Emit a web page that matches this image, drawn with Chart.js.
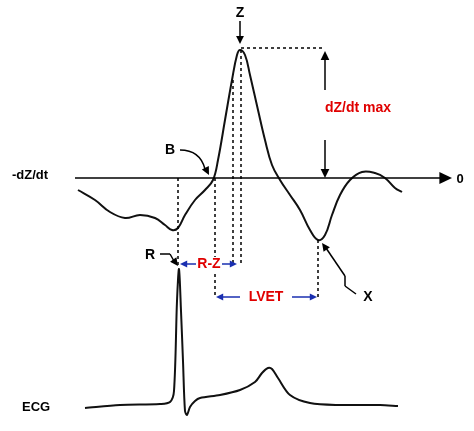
<!DOCTYPE html>
<html><head><meta charset="utf-8">
<script src="https://cdn.jsdelivr.net/npm/chart.js@4"></script>
<style>html,body{margin:0;padding:0;background:#fff}#w{width:474px;height:431px}</style>
</head><body><div id="w"><canvas id="c"></canvas></div>
<script>
// Values in plot units: x = horizontal position, y = height above bottom
const dzdtX = [78,95,110,125,140,155,165,172,178,185,195,205,213,218,225,232,237,240,245,250,258,265,272,280,290,300,310,318,325,332,340,350,362,375,385,395,402];
const dzdtY = [241,231,219,213,216,213,206,201,203,216,231,241,251,271,311,351,376,381,376,356,321,291,266,251,236,221,201,191,196,216,236,251,259,258,253,243,239];
const ecgX = [85,120,160,170,174,177,179,181,183,185,187,190,195,200,220,240,255,262,268,272,278,290,310,340,380,398];
const ecgY = [23,26,27,29,40,130,162,120,70,20,16,24,30,33,36,41,49,58,63,62,53,36,28,26,26,25];
const labels = {axis:"-dZ/dt", zero:"0", Z:"Z", B:"B", R:"R", X:"X", max:"dZ/dt max", RZ:"R-Z", LVET:"LVET", ECG:"ECG"};
const baselineY = 253;

const toPts=(xs,ys)=>xs.map((x,i)=>({x,y:ys[i]}));
const ann = {
  id:'ann',
  afterDatasetsDraw(ch){
    const c=ch.ctx, X=v=>ch.scales.x.getPixelForValue(v), Y=v=>ch.scales.y.getPixelForValue(v);
    c.save();
    const line=(x1,y1,x2,y2,dash,col,w)=>{c.beginPath();c.setLineDash(dash||[]);c.strokeStyle=col||'#000';c.lineWidth=w||1.5;c.moveTo(X(x1),Y(y1));c.lineTo(X(x2),Y(y2));c.stroke();c.setLineDash([]);};
    const head=(x,y,ang,col,s)=>{s=s||8;const px=X(x),py=Y(y);c.fillStyle=col||'#000';c.beginPath();c.moveTo(px,py);c.lineTo(px-s*Math.cos(ang-0.45),py-s*Math.sin(ang-0.45));c.lineTo(px-s*Math.cos(ang+0.45),py-s*Math.sin(ang+0.45));c.closePath();c.fill();};
    const txt=(t,x,y,col,size,al)=>{c.fillStyle=col||'#000';c.font='bold '+(size||13)+'px Arial, "Liberation Sans"';c.textAlign=al||'center';c.textBaseline='middle';c.fillText(t,X(x),Y(y));};
    // baseline axis
    line(75,baselineY,440,baselineY,null,'#000',1.5);
    head(452,baselineY,0,'#000',14);
    txt(labels.axis,12,baselineY+3,'#000',13,'left');
    txt(labels.zero,460,baselineY-1,'#000',13,'center');
    // dashed verticals
    const d=[3,3];
    line(178,baselineY,178,163,d);
    line(215,baselineY,215,133,d);
    line(233,351,233,166,d);
    line(241,381,241,166,d);
    line(318,191,318,131,d);
    line(241,383,325,383,d);
    // dZ/dt max arrows
    line(325,341,325,371);head(325,380,-Math.PI/2,'#000',10);
    line(325,291,325,262);head(325,253,Math.PI/2,'#000',10);
    txt(labels.max,325,323,'#e00000',14,'left');
    // Z
    txt(labels.Z,240,418,'#000',14);
    line(240,410,240,394);head(240,387,Math.PI/2,'#000',9);
    // B
    txt(labels.B,170,281,'#000',14);
    c.beginPath();c.strokeStyle='#000';c.lineWidth=1.5;c.moveTo(X(180),Y(281));c.quadraticCurveTo(X(200),Y(281),X(205),Y(262));c.stroke();
    head(209,256,Math.PI*0.35,'#000',9);
    // R
    txt(labels.R,150,176,'#000',14);
    line(160,177,170,177);
    c.beginPath();c.moveTo(X(170),Y(177));c.lineTo(X(174),Y(170));c.stroke();
    head(178,165,Math.PI*0.3,'#000',9);
    // X
    txt(labels.X,368,134,'#000',14);
    line(356,137,345,145);line(345,145,345,155);
    line(345,155,326,183);head(322,188,-Math.PI*0.7,'#000',9);
    // R-Z
    line(184,167,233,167,null,'#1a2fb0',1.5);
    head(180,167,Math.PI,'#1a2fb0',8);head(237,167,0,'#1a2fb0',8);
    c.fillStyle='#fff';c.fillRect(X(196),Y(174),X(222)-X(196),Y(160)-Y(174));
    txt(labels.RZ,209,167,'#e00000',14);
    // LVET
    line(220,134,313,134,null,'#1a2fb0',1.5);
    head(216,134,Math.PI,'#1a2fb0',8);head(317,134,0,'#1a2fb0',8);
    c.fillStyle='#fff';c.fillRect(X(240),Y(142),X(292)-X(240),Y(126)-Y(142));
    txt(labels.LVET,266,134,'#e00000',14);
    // ECG
    txt(labels.ECG,22,24,'#000',13,'left');
    c.restore();
  }
};
new Chart(document.getElementById('c'),{
  type:'line',
  data:{datasets:[
    {data:toPts(dzdtX,dzdtY),borderColor:'#111',borderWidth:2,pointRadius:0,tension:0.4,fill:false},
    {data:toPts(ecgX,ecgY),borderColor:'#111',borderWidth:2,pointRadius:0,tension:0.3,fill:false}
  ]},
  options:{responsive:true,maintainAspectRatio:false,animation:false,
    layout:{padding:0},
    plugins:{legend:{display:false},tooltip:{enabled:false}},
    scales:{x:{type:'linear',min:0,max:474,display:false},y:{type:'linear',min:0,max:431,display:false}}},
  plugins:[ann]
});
</script></body></html>
